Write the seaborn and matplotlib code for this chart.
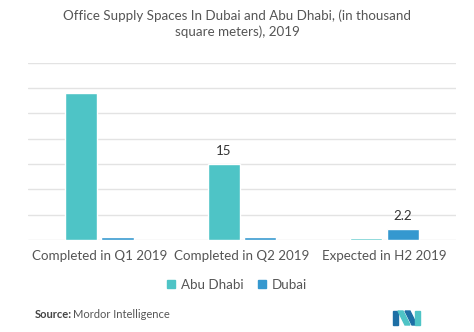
import matplotlib
matplotlib.use("Agg")
import matplotlib.pyplot as plt
import seaborn as sns
import pandas as pd
from matplotlib.patches import Polygon, Patch

categories = ["Completed in Q1 2019", "Completed in Q2 2019", "Expected in H2 2019"]
abu_dhabi = [29.0, 15.0, 0.5]
dubai = [0.6, 0.6, 2.2]
series = ["Abu Dhabi", "Dubai"]
colors = ["#4EC4C6", "#3598CF"]
labels_abu = [None, "15", None]
labels_dubai = [None, None, "2.2"]

df = pd.DataFrame({
    "cat": categories * 2,
    "val": abu_dhabi + dubai,
    "series": [series[0]] * 3 + [series[1]] * 3,
})

sns.set_style("white")
plt.rcParams["font.family"] = ["Lato", "DejaVu Sans"]

fig = plt.figure(figsize=(4.74, 3.32), dpi=100)
ax = fig.add_axes([0.059, 0.277, 0.903, 0.534])
sns.barplot(data=df, x="cat", y="val", hue="series", palette=colors,
            width=0.51, gap=0.12, ax=ax, legend=False, saturation=1)
ax.set_xlim(-0.5, 2.5)
ax.set_ylim(0, 35)
ax.set_yticks([0, 5, 10, 15, 20, 25, 30, 35])
ax.yaxis.grid(True, color="#e3e3e3", linewidth=1)
ax.set_axisbelow(True)
ax.set_yticklabels([])
ax.tick_params(axis="y", length=0)
ax.tick_params(axis="x", length=0, pad=7, labelsize=9.6, labelcolor="#555555")
ax.set_xlabel("")
ax.set_ylabel("")
for s in ax.spines.values():
    s.set_visible(False)

for cont, labs in zip(ax.containers, [labels_abu, labels_dubai]):
    ax.bar_label(cont, labels=[l if l else "" for l in labs], padding=5,
                 fontsize=9.6, color="#333333")

fig.text(0.5, 0.972, "Office Supply Spaces In Dubai and Abu Dhabi, (in thousand\nsquare meters), 2019",
         ha="center", va="top", fontsize=9.6, color="#555555", linespacing=1.3)

handles = [Patch(color=c) for c in colors]
fig.legend(handles, series, loc="center", bbox_to_anchor=(0.5, 0.143), ncol=2,
           frameon=False, fontsize=9.6, labelcolor="#555555",
           handlelength=0.6, handleheight=0.6, handletextpad=0.4, columnspacing=1.1)

fig.text(0.074, 0.052, "Source:", fontsize=8, fontweight="bold", color="#444444", va="center")
fig.text(0.155, 0.052, "Mordor Intelligence", fontsize=8, color="#555555", va="center")

W, H = 474, 332
def P(pts):
    return [(x / W, 1 - y / H) for x, y in pts]
fig.patches.append(Polygon(P([(393, 311), (398, 311), (398, 325), (393, 325)]), closed=True,
                           transform=fig.transFigure, color="#1d6fa5"))
fig.patches.append(Polygon(P([(398, 311), (403, 311), (410, 325), (405, 325)]), closed=True,
                           transform=fig.transFigure, color="#4EC4C6"))
fig.patches.append(Polygon(P([(405, 311), (410, 311), (417, 325), (412, 325)]), closed=True,
                           transform=fig.transFigure, color="#1d6fa5"))
fig.patches.append(Polygon(P([(415, 311), (420, 311), (420, 325), (415, 325)]), closed=True,
                           transform=fig.transFigure, color="#4EC4C6"))

fig.savefig("out.png", dpi=100, facecolor="white")
